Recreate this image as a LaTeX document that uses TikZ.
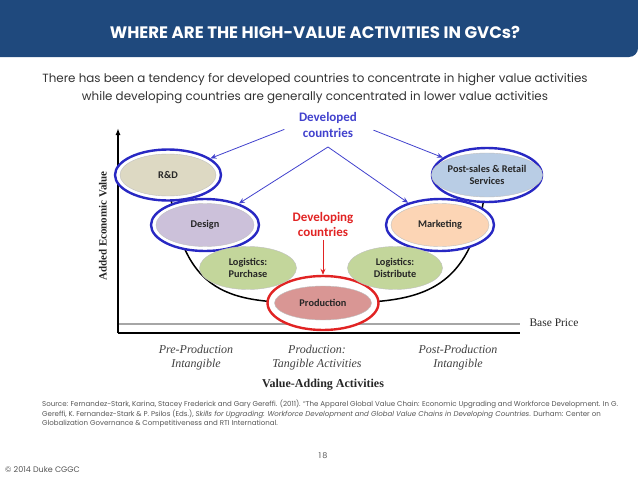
\documentclass[tikz,border=0pt]{standalone}
\usepackage{fontspec}
\setmainfont{Liberation Serif}
\setsansfont{Poppins}
\newfontfamily\calibri{Carlito}
\usetikzlibrary{arrows.meta}
\usetikzlibrary{shapes.geometric}
\definecolor{cggcblue}{RGB}{31,73,125}
\definecolor{ringblue}{RGB}{40,40,195}
\definecolor{devblue}{RGB}{65,65,205}
\definecolor{devred}{RGB}{225,35,35}
\definecolor{rdfill}{RGB}{221,217,195}
\definecolor{designfill}{RGB}{204,193,218}
\definecolor{postfill}{RGB}{185,205,229}
\definecolor{marketfill}{RGB}{252,213,181}
\definecolor{logfill}{RGB}{195,214,155}
\definecolor{prodfill}{RGB}{217,150,148}
\definecolor{notegray}{RGB}{85,85,85}

\begin{document}
\begin{tikzpicture}[
	x=1pt, y=-1pt,
	stage/.style={ellipse, draw=black!25, thin, inner sep=0pt,
		minimum width=97pt, minimum height=43pt, align=center,
		text=black!85, font=\calibri\bfseries\fontsize{10.3}{12}\selectfont},
	ring/.style={ellipse, draw=ringblue, line width=2.4pt, fill=white,
		minimum width=108pt, minimum height=52pt},
	devarrow/.style={color=devblue, line width=0.8pt, -{Stealth[length=6pt, width=5pt]}},
	phase/.style={font=\itshape\fontsize{12}{14}\selectfont, text=black!75, align=center}
	]
	
	\useasboundingbox (0,0) rectangle (638,479);
	
	% header
	\fill[cggcblue, rounded corners=9pt]
		(-20,-20) rectangle (638,57);
	\node[text=white, font=\sffamily\bfseries\fontsize{16.6}{18}\selectfont] (title)
		at (315,32) {WHERE ARE THE HIGH-VALUE ACTIVITIES IN GVCs?};
	\node[text=black!80, align=center, font=\sffamily\fontsize{11.9}{18}\selectfont] (intro)
		at (315,89) {There has been a tendency for developed countries to concentrate in higher value activities\\
		while developing countries are generally concentrated in lower value activities};
	
	% axes
	\coordinate (origin) at (118,333);
	\draw[color=black!35, line width=1.2pt]
		(118,324) -- (520,324) coordinate (baseend);
	\draw[line width=1.6pt, -{Latex[length=7pt, width=5pt]}]
		(origin) -- (118,128);
	\draw[line width=2pt]
		(origin) -- (520,333);
	\node[anchor=west, text=black!85, font=\fontsize{11.5}{13}\selectfont] (baseprice)
		at (526,323) {Base Price};
	\node[rotate=90, text=black!85, font=\bfseries\fontsize{11}{13}\selectfont] (ylabel)
		at (103,226) {Added Economic Value};
	
	% the smile curve
	\coordinate (rdpos) at (168,175);
	\coordinate (designpos) at (205,225);
	\coordinate (postpos) at (487,175);
	\coordinate (marketpos) at (440,225);
	\coordinate (prodpos) at (323,303);
	\draw[line width=1.5pt]
		(rdpos) .. controls +(12,125) and +(-93,0) .. (prodpos)
		.. controls +(93,0) and +(-12,125) .. (postpos);
	
	\node[ring, minimum width=106pt, minimum height=51pt] (rdring) at (rdpos) {};
	\node[ring] (designring) at (designpos) {};
	\node[ring, minimum width=110pt, minimum height=54pt] (postring) at (postpos) {};
	\node[ring] (marketring) at (marketpos) {};
	\node[ring, draw=devred, minimum width=111pt, minimum height=54pt] (prodring) at (prodpos) {};
	
	\node[stage, fill=rdfill, minimum width=96pt, minimum height=42pt] (rd) at (rdpos) {R\&D};
	\node[stage, fill=designfill, minimum width=98pt] (design) at (designpos) {Design};
	\node[stage, fill=postfill, minimum width=102pt, minimum height=44pt] (post) at (postpos) {Post-sales \& Retail\\Services};
	\node[stage, fill=marketfill, minimum width=98pt] (market) at (marketpos) {Marketing};
	\node[stage, fill=logfill] (purchase) at (248,268) {Logistics:\\Purchase};
	\node[stage, fill=logfill, minimum width=95pt] (distribute) at (395,268) {Logistics:\\Distribute};
	\node[stage, fill=prodfill, minimum width=97pt, minimum height=34pt] (prod) at (prodpos) {Production};
	
	% who does what
	\node[text=devblue, align=center, font=\calibri\bfseries\fontsize{13}{16}\selectfont] (developed)
		at (328,125) {Developed\\countries};
	\coordinate (apex) at (328,147);
	\draw[devarrow] (apex) -- (designring);
	\draw[devarrow] (apex) -- (marketring);
	\draw[devarrow, shorten <=12pt] (developed.west) -- (rdring);
	\draw[devarrow, shorten <=14pt] (developed.east) -- (postring);
	
	\node[text=devred, align=center, font=\calibri\bfseries\fontsize{13}{15}\selectfont] (developing)
		at (323,224) {Developing\\countries};
	\draw[color=devred, line width=1pt, -{Stealth[length=6pt, width=5pt]}]
		(developing.south) -- (prodring.north);
	
	% phases along the chain
	\node[phase] (pre) at (196,358) {Pre-Production\\Intangible};
	\node[phase] (tangible) at (317,358) {Production:\\Tangible Activities};
	\node[phase] (postprod) at (458,358) {Post-Production\\Intangible};
	\node[text=black!85, font=\bfseries\fontsize{12}{14}\selectfont] (xlabel)
		at (323,385) {Value-Adding Activities};
	
	% source and footer
	\node[anchor=north west, align=left, inner sep=0pt, text=notegray,
		font=\sffamily\fontsize{7.05}{9.5}\selectfont] (source) at (42,400)
		{Source: Fernandez-Stark, Karina, Stacey Frederick and Gary Gereffi. (2011). ``The Apparel Global Value Chain: Economic Upgrading and Workforce Development. In G.\\
		Gereffi, K. Fernandez-Stark \& P. Psilos (Eds.), \textit{Skills for Upgrading: Workforce Development and Global Value Chains in Developing Countries}. Durham: Center on\\
		Globalization Governance \& Competitiveness and RTI International.};
	\node[text=notegray, font=\sffamily\fontsize{8}{9}\selectfont] (page) at (323,456) {1\,8};
	\node[anchor=west, inner sep=0pt, text=notegray, font=\sffamily\fontsize{8}{9}\selectfont] (footer)
		at (5,470) {\textcopyright{} 2014 Duke CGGC};
\end{tikzpicture}
\end{document}
